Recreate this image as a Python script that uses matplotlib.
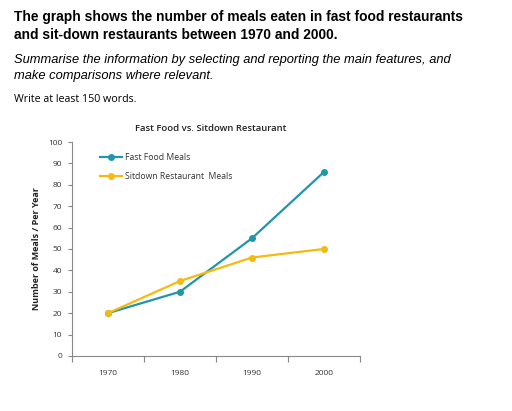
import matplotlib.pyplot as plt

years = ["1970", "1980", "1990", "2000"]
fast_food = [20, 30, 55, 86]
sitdown = [20, 35, 46, 50]

teal = "#2196a8"
yellow = "#f5b90f"
grey = "#888888"

fig = plt.figure(figsize=(5.12, 4.11), dpi=100)

# task text above the chart
fig.text(0.027, 0.958, "The graph shows the number of meals eaten in fast food restaurants",
         family="Liberation Sans", weight="bold", fontsize=9.95, va="center")
fig.text(0.027, 0.914, "and sit-down restaurants between 1970 and 2000.",
         family="Liberation Sans", weight="bold", fontsize=9.95, va="center")
fig.text(0.027, 0.853, "Summarise the information by selecting and reporting the main features, and",
         family="Liberation Sans", style="italic", fontsize=9.25, va="center")
fig.text(0.027, 0.814, "make comparisons where relevant.",
         family="Liberation Sans", style="italic", fontsize=9.25, va="center")
fig.text(0.027, 0.758, "Write at least 150 words.",
         family="Open Sans", fontsize=7.65, va="center")

ax = fig.add_axes([0.1406, 0.134, 0.5625, 0.5205])
x = range(len(years))
ax.plot(x, fast_food, color=teal, lw=1.6, marker="o", ms=4, label="Fast Food Meals")
ax.plot(x, sitdown, color=yellow, lw=1.6, marker="o", ms=4, label="Sitdown Restaurant  Meals")

ax.set_xlim(-0.5, 3.5)
ax.set_ylim(0, 100)
ax.set_yticks(range(0, 101, 10))
ax.set_xticks([-0.5, 0.5, 1.5, 2.5, 3.5])
ax.set_xticklabels([])
ax.set_xticks(list(x), minor=True)
ax.set_xticklabels(years, minor=True)
ax.tick_params(axis="x", which="minor", length=0, pad=10, labelsize=6, labelcolor="#333333")
ax.tick_params(axis="x", which="major", length=4, color=grey)
ax.tick_params(axis="y", length=3, color=grey, labelsize=6, labelcolor="#333333", pad=4)
for lab in ax.get_xticklabels(minor=True) + ax.get_yticklabels():
    lab.set_family("Open Sans")

for s in ["top", "right"]:
    ax.spines[s].set_visible(False)
for s in ["left", "bottom"]:
    ax.spines[s].set_color(grey)
    ax.spines[s].set_linewidth(0.8)

ax.set_title("Fast Food vs. Sitdown Restaurant", family="Open Sans", weight="semibold",
             fontsize=6.8, pad=8, color="#222222", x=0.48)
ax.set_ylabel("Number of Meals / Per Year", family="Open Sans", weight="bold",
              fontsize=6.5, labelpad=5, color="#222222")

leg = ax.legend(loc="upper left", bbox_to_anchor=(0.07, 0.985), frameon=False,
                prop={"family": "Open Sans", "size": 6.2}, handlelength=2.6,
                labelspacing=1.15, handletextpad=0.3)
for t in leg.get_texts():
    t.set_color("#333333")

fig.savefig("out.png", dpi=100)
